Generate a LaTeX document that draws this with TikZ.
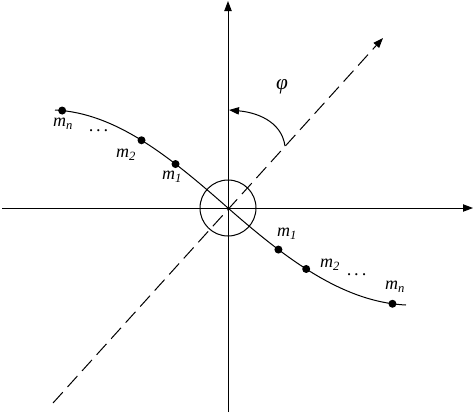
\documentclass[tikz,border=0pt]{standalone}
\usepackage{fontspec}
\setmainfont{Liberation Serif}
\usetikzlibrary{arrows.meta}

\tikzset{every picture/.style={line width=0.75pt}}
\tikzset{
  axis/.style={-{Triangle[length=7.5pt,width=5.5pt]}},
  mass/.style={circle,fill=black,inner sep=0pt,minimum size=6pt},
  lbl/.style={inner sep=0.75pt,font=\fontsize{13.5}{16}\selectfont\itshape},
}

\begin{document}
\begin{tikzpicture}[x=0.75pt,y=0.75pt,yscale=-1,xscale=1]
\path[use as bounding box] (0,0) rectangle (474,412);

% axes
\coordinate (O) at (228,208);
\coordinate (xl) at (2,208);
\coordinate (xr) at (473,208);
\coordinate (yb) at (228,412);
\coordinate (yt) at (228,1);
\draw[axis] (xl) -- (xr);
\draw[axis] (yb) -- (yt);

%Shape: Circle
\draw (O) circle (28);

% dashed axis
\coordinate (dl) at (53,403);
\coordinate (dr) at (383,38);
\draw[axis,dash pattern=on 11pt off 5.25pt] (dl) -- (dr);

% angle arc
\coordinate (phiS) at (285,146);
\coordinate (phiE) at (229,110);
\draw[axis] (phiS) to[out=-98,in=5] (phiE);
% Text Node
\node[lbl,font=\fontsize{16}{19}\selectfont\itshape] (phi) at (282,87) {φ};

% curve with masses
\coordinate (cl) at (55,110);
\coordinate (cr) at (406,305);
\draw (cl) .. controls (115,113) and (168,155) .. (O)
  node[mass,pos=0.04] (mnL) {}
  node[mass,pos=0.5] (m2L) {}
  node[mass,pos=0.7] (m1L) {};
\draw (O) .. controls (283,256) and (341,302) .. (cr)
  node[mass,pos=0.3] (m1R) {}
  node[mass,pos=0.46] (m2R) {}
  node[mass,pos=0.93] (mnR) {};

% Text Node
\node[lbl] (lmnL) at (63,124) {m\textsubscript{n}};
\node[lbl] (ldotL) at (99,131) {.\,.\,.};
\node[lbl] (lm2L) at (126,155) {m\textsubscript{2}};
\node[lbl] (lm1L) at (172,177) {m\textsubscript{1}};
\node[lbl] (lm1R) at (287,234) {m\textsubscript{1}};
\node[lbl] (lm2R) at (330,265) {m\textsubscript{2}};
\node[lbl] (ldotR) at (357,275) {.\,.\,.};
\node[lbl] (lmnR) at (395,287) {m\textsubscript{n}};

\end{tikzpicture}
\end{document}
